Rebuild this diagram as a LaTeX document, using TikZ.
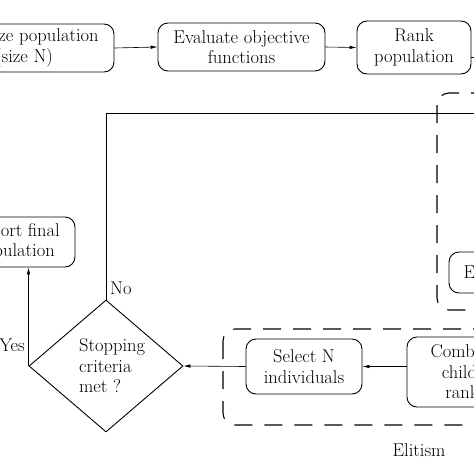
\documentclass[tikz,border=0pt]{standalone}
\usetikzlibrary{arrows.meta,shapes.geometric}
\begin{document}
\begin{tikzpicture}[x=1pt,y=-1pt,
  every node/.style={font=\fontsize{18.5}{20.5}\selectfont},
  box/.style={draw,rounded corners=10pt,align=center,inner sep=0pt,line width=0.9pt},
  dbox/.style={draw,rounded corners=12pt,line width=1.1pt,dash pattern=on 18pt off 12pt},
  conn/.style={line width=0.6pt},
  arr/.style={conn,-{Latex[length=7pt,width=3.5pt]}},
  lbl/.style={inner sep=0pt}
]
\useasboundingbox (0,0) rectangle (474,474);
\clip (0,0) rectangle (474,474);
% dashed groups
\draw[dbox] (437,93) rectangle (620,310);
\draw[dbox] (223,329) rectangle (620,425);
% top row
\node[box,minimum width=180pt,minimum height=48pt] (init) at (24,48) {Initialize population\\(size N)};
\node[box,minimum width=167pt,minimum height=48pt] (eval) at (241.5,47) {Evaluate objective\\functions};
\node[box,minimum width=114pt,minimum height=53pt] (rank) at (414,47.5) {Rank\\population};
% right parts
\node[box,minimum width=94pt,minimum height=41pt] (ebox) at (496,272.5) {Evaluate};
\node[box,minimum width=166pt,minimum height=70pt] (comb) at (490,372) {Combine parent\\children, and\\rank the 2N};
\node[box,minimum width=116pt,minimum height=55pt] (sel) at (304,366.5) {Select N\\individuals};
% diamond
\node[draw,shape=diamond,line width=0.9pt,minimum width=154pt,minimum height=132pt,inner sep=0pt] (dia) at (106,366) {};
\node[lbl,anchor=west,align=left] (dtext) at (79,366) {Stopping\\criteria\\met ?};
\node[box,minimum width=120pt,minimum height=50pt] (exp) at (15,242) {Export final\\population};
% coordinates
\coordinate (rout) at (480,57);
\coordinate (loopr) at (480,113);
% connectors
\draw[arr] (init.east) -- (eval.west);
\draw[arr] (eval.east) -- (rank.west);
\draw[conn] (rank.east |- rout) -- (rout);
\draw[conn] (loopr) -| (dia.north);
\draw[arr] (sel.east -| comb.west) -- (sel.east);
\draw[arr] (sel.west) -- (dia.east);
\draw[arr] (dia.west) -- (dia.west |- exp.south);
% labels
\node[lbl,anchor=west] (no) at (110,288) {No};
\node[lbl,anchor=east] (yes) at (25,345) {Yes};
\node[lbl] (elit) at (419,450) {Elitism};
\end{tikzpicture}
\end{document}
